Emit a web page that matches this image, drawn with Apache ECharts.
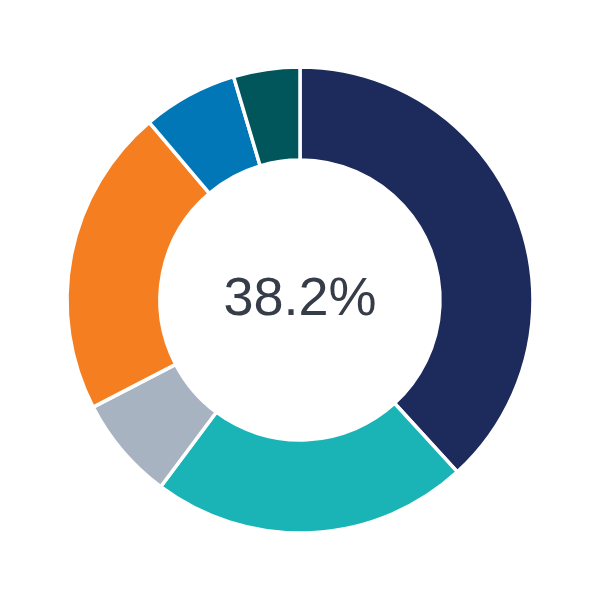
<!DOCTYPE html>
<html>
<head>
<meta charset="utf-8">
<script src="https://cdn.jsdelivr.net/npm/echarts@6/dist/echarts.min.js"></script>
<style>
    html, body { margin: 0; padding: 0; background: #fff; }
    #chart { width: 600px; height: 600px; }
</style>
</head>
<body>
<div id="chart"></div>
<script>
// 环形图数据
var categories = ["A", "B", "C", "D", "E", "F"];
var values = [38.2, 22.0, 7.2, 21.4, 6.6, 4.6];
var colors = ["#1c2b5b", "#1ab4b7", "#a8b3c1", "#f47e20", "#0277b8", "#00565a"];
var centerLabel = "38.2%";

(function () {
    var myChart = echarts.init(document.getElementById("chart"));
    var option = {
        animation: false,
        color: colors,
        title: {
            text: centerLabel,
            left: "center",
            top: "center",
            textStyle: {
                color: "#363c48",
                fontSize: 54,
                fontWeight: "normal",
                fontFamily: "Liberation Sans, Arial, sans-serif"
            }
        },
        series: [
            {
                type: "pie",
                center: ["50%", "50%"],
                radius: [140, 233],
                startAngle: 90,
                clockwise: true,
                label: { show: false },
                labelLine: { show: false },
                itemStyle: {
                    borderColor: "#fff",
                    borderWidth: 3.5
                },
                data: categories.map(function (c, i) {
                    return { name: c, value: values[i] };
                })
            }
        ]
    };
    myChart.setOption(option);
})();
</script>
</body>
</html>
